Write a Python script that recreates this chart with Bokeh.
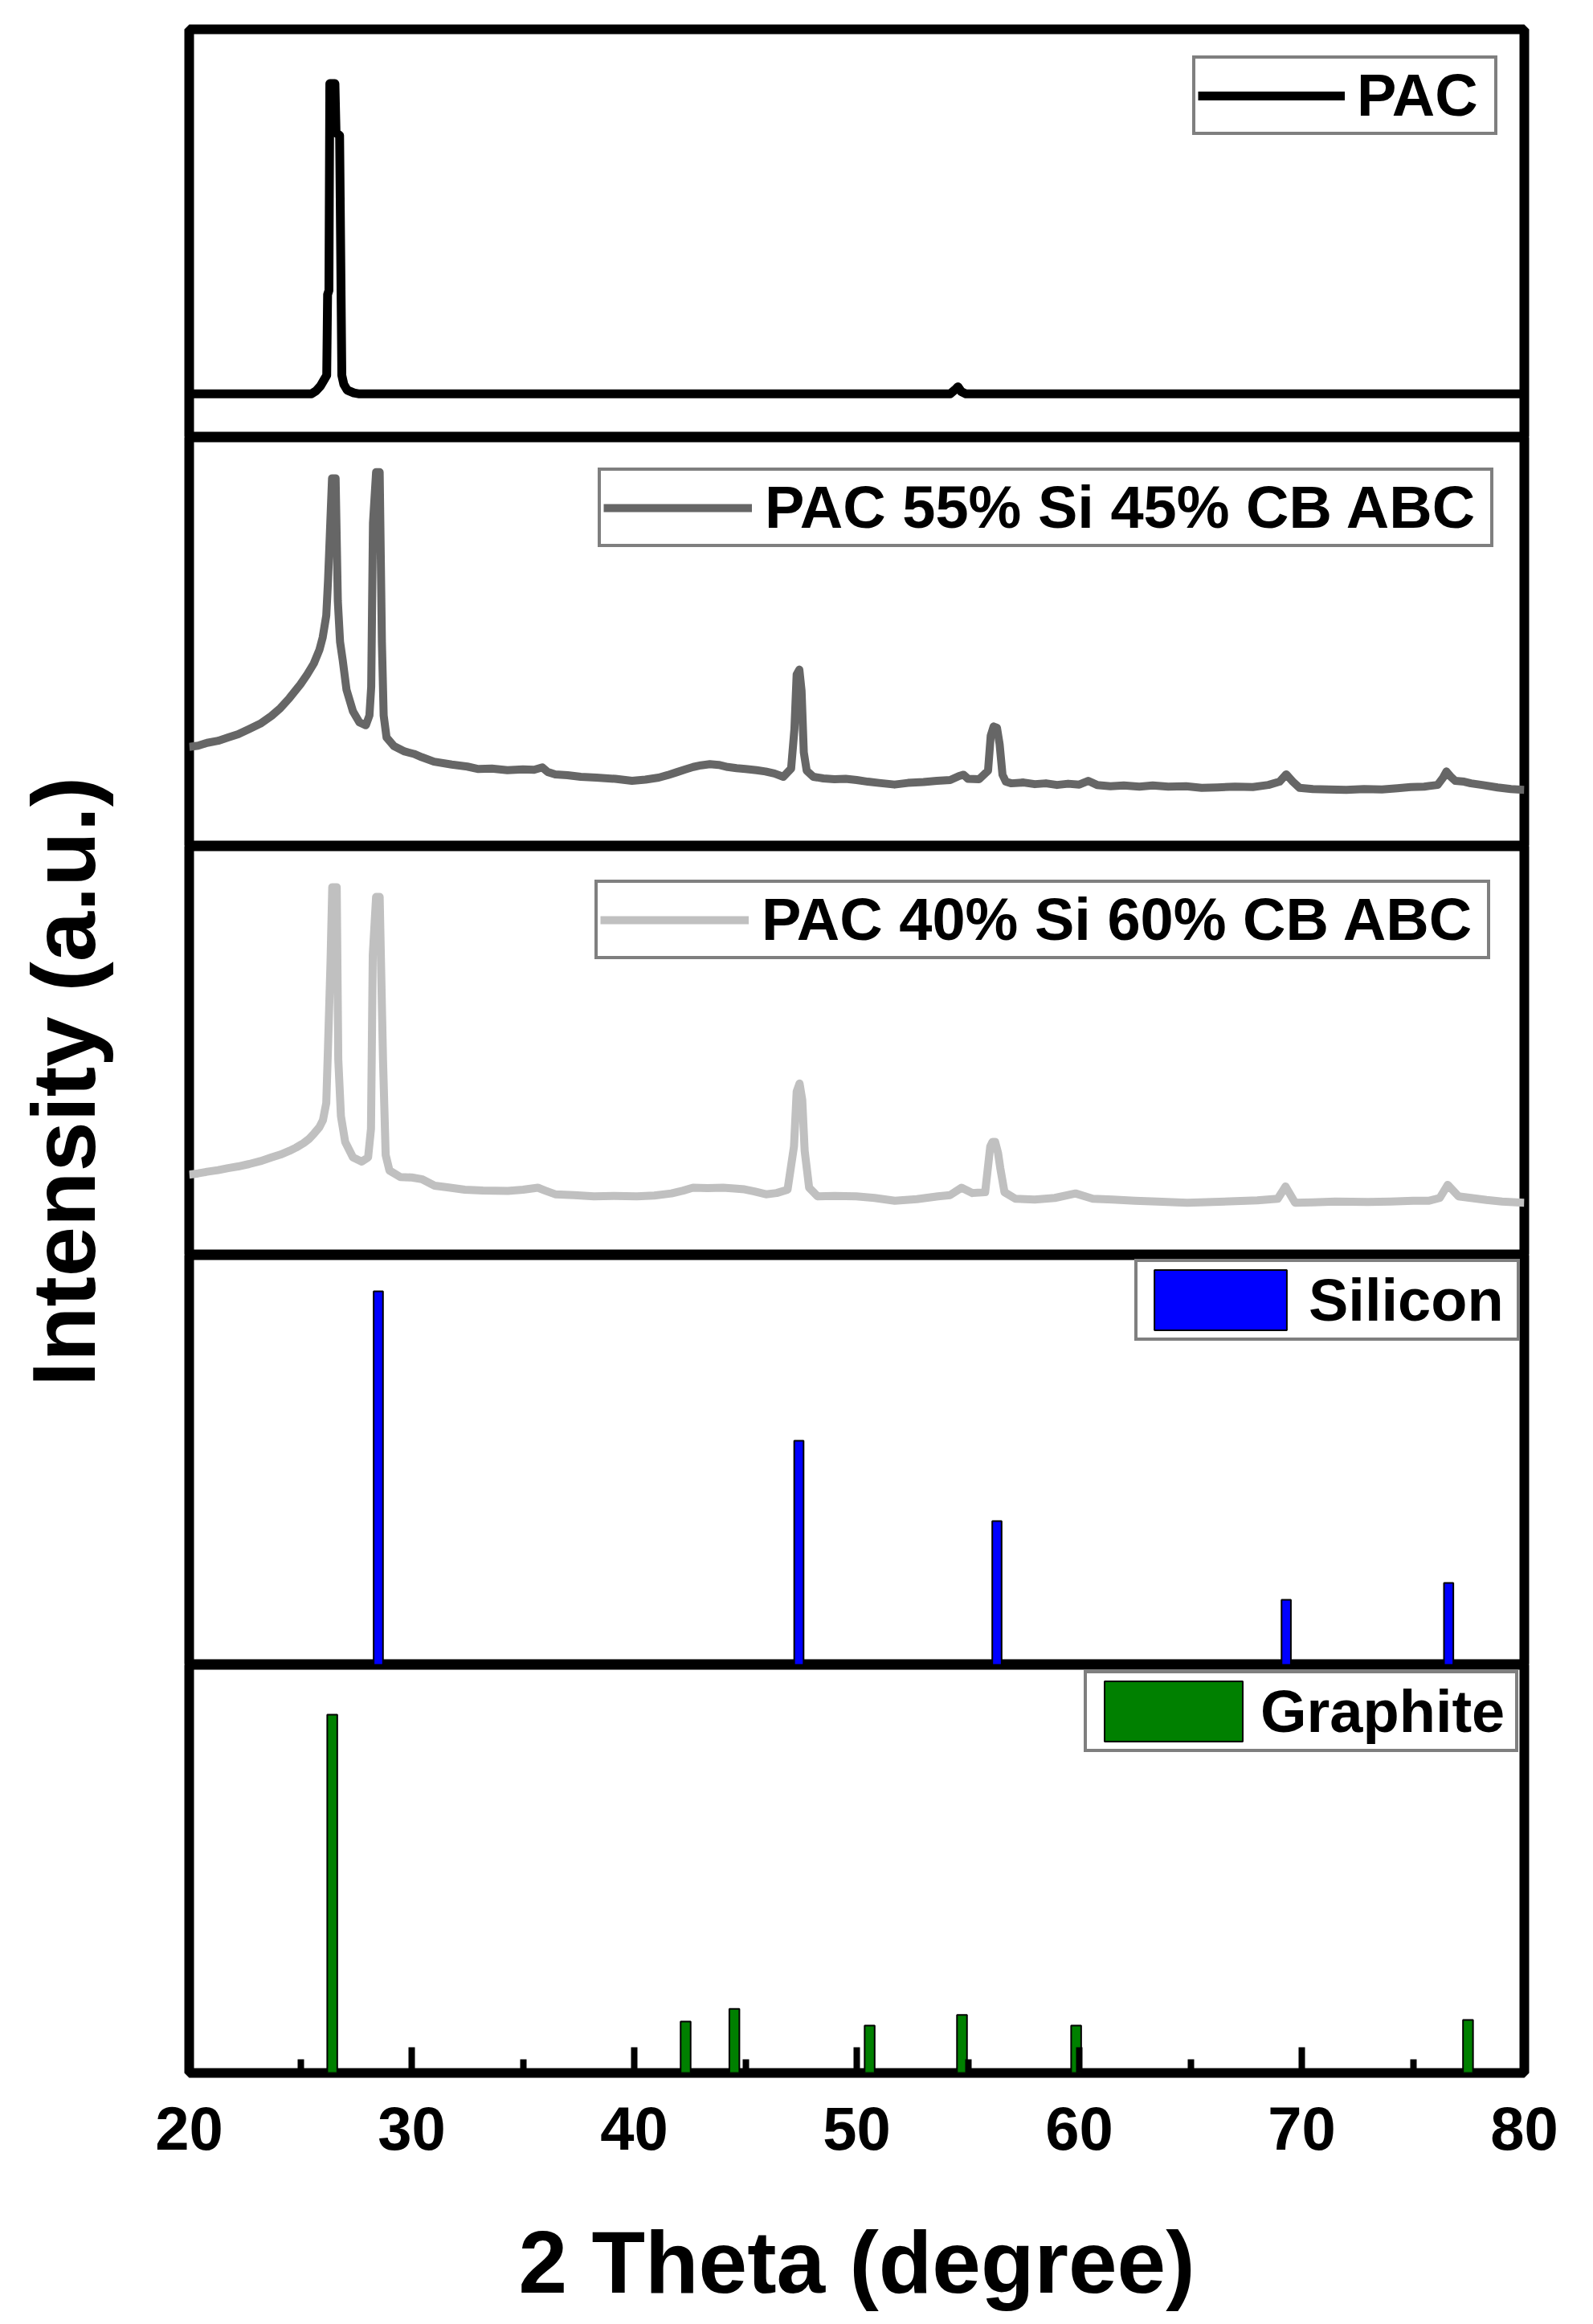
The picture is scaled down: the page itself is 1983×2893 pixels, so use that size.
from bokeh.plotting import figure
from bokeh.models import Range1d, FixedTicker, Label
from bokeh.layouts import row, column
from bokeh.embed import file_html
from bokeh.resources import INLINE

FONT = "Liberation Sans"

# ---------------- data (2 theta in degree, intensity in a.u.) ----------------
pac_x = [20.0, 21.0, 22.0, 23.0, 24.0, 25.0, 25.5, 25.7, 25.9, 26.05,
         26.18, 26.22, 26.28, 26.32, 26.55, 26.6, 26.76, 26.86, 26.95, 27.1,
         27.4, 27.6, 30.0, 35.0, 40.0, 45.0, 50.0, 54.2, 54.4, 54.55,
         54.7, 54.9, 60.0, 65.0, 70.0, 75.0, 80.0]
pac_y = [107, 107, 107, 107, 107, 107, 107, 114, 126, 140,
         152, 350, 360, 867, 867, 746, 740, 152, 130, 116,
         109, 107, 107, 107, 107, 107, 107, 107, 116, 124,
         112, 107, 107, 107, 107, 107, 107]

s55_x = [20.0, 20.4, 20.8, 21.3, 21.75, 22.2, 22.7, 23.2, 23.7, 24.1,
         24.5, 25.0, 25.3, 25.6, 25.85, 26.0, 26.16, 26.24, 26.32, 26.42,
         26.58, 26.68, 26.78, 26.9, 27.07, 27.36, 27.65, 27.94, 28.1, 28.18,
         28.26, 28.4, 28.56, 28.66, 28.74, 28.87, 29.2, 29.68, 30.1, 30.45,
         31.0, 31.8, 32.5, 33.0, 33.6, 34.3, 35.0, 35.5, 35.87, 36.1,
         36.45, 37.0, 37.6, 38.3, 39.15, 39.9, 40.5, 41.1, 41.5, 41.9,
         42.3, 42.65, 43.0, 43.4, 43.8, 44.2, 44.6, 45.0, 45.5, 45.9,
         46.3, 46.7, 47.05, 47.2, 47.3, 47.42, 47.52, 47.62, 47.75, 48.05,
         48.5, 49.0, 49.5, 50.0, 50.5, 51.0, 51.7, 52.3, 53.0, 53.6,
         54.2, 54.6, 54.8, 55.0, 55.5, 55.9, 56.02, 56.15, 56.3, 56.42,
         56.55, 56.7, 56.95, 57.5, 58.0, 58.5, 59.0, 59.5, 60.0, 60.4,
         60.8, 61.4, 62.0, 62.7, 63.3, 64.0, 64.8, 65.5, 66.2, 67.0,
         67.8, 68.5, 69.0, 69.3, 69.6, 69.9, 70.5, 71.2, 72.0, 72.8,
         73.6, 74.3, 74.9, 75.5, 76.1, 76.35, 76.5, 76.7, 76.9, 77.3,
         77.6, 78.1, 78.8, 79.4, 80.0]
s55_y = [243, 246, 253, 258, 266, 274, 287, 300, 319, 338,
         362, 396, 420, 447, 480, 511, 564, 650, 760, 900,
         900, 600, 500, 455, 383, 330, 303, 296, 320, 390,
         790, 915, 915, 500, 320, 266, 245, 232, 226, 218,
         207, 200, 195, 189, 190, 186, 188, 187, 193, 182,
         176, 174, 170, 168, 165, 160, 163, 168, 174, 181,
         188, 194, 198, 201, 199, 194, 191, 189, 186, 183,
         178, 170, 190, 287, 420, 432, 380, 230, 185, 170,
         166, 164, 165, 162, 158, 155, 151, 155, 157, 160,
         162, 172, 175, 165, 164, 185, 270, 293, 290, 250,
         175, 158, 154, 156, 152, 154, 150, 153, 151, 160,
         150, 147, 149, 146, 149, 146, 147, 143, 144, 146,
         145, 150, 158, 176, 158, 143, 140, 139, 138, 140,
         139, 142, 145, 146, 150, 168, 183, 170, 160, 158,
         154, 150, 144, 140, 138]

s40_x = [20.0, 20.4, 20.8, 21.3, 21.75, 22.2, 22.7, 23.2, 23.7, 24.1,
         24.5, 24.8, 25.14, 25.4, 25.62, 25.85, 26.01, 26.16, 26.24, 26.35,
         26.43, 26.63, 26.7, 26.82, 27.01, 27.36, 27.75, 28.04, 28.17, 28.25,
         28.4, 28.56, 28.71, 28.83, 29.0, 29.49, 30.0, 30.45, 31.03, 31.6,
         32.39, 33.2, 34.32, 35.0, 35.67, 36.0, 36.45, 37.3, 38.19, 39.1,
         40.12, 40.9, 41.67, 42.2, 42.64, 43.3, 43.99, 44.5, 44.96, 45.4,
         45.92, 46.4, 46.89, 47.18, 47.3, 47.43, 47.55, 47.66, 47.86, 48.24,
         49.0, 49.98, 50.8, 51.71, 52.7, 53.65, 54.2, 54.71, 55.2, 55.77,
         56.0, 56.1, 56.22, 56.35, 56.45, 56.64, 57.13, 58.0, 58.9, 59.83,
         60.61, 61.5, 62.5, 63.5, 64.86, 66.0, 67.0, 68.0, 68.92, 69.27,
         69.7, 70.5, 71.5, 72.98, 74.0, 75.0, 75.69, 76.2, 76.56, 77.04,
         77.6, 78.3, 79.0, 80.0]
s40_y = [197, 200, 204, 208, 213, 217, 223, 230, 239, 246,
         255, 263, 274, 285, 298, 313, 330, 372, 511, 713,
         900, 900, 479, 340, 277, 239, 229, 239, 309, 734,
         876, 876, 479, 245, 207, 191, 190, 186, 170, 166,
         160, 158, 157, 160, 165, 158, 149, 147, 144, 145,
         144, 146, 151, 158, 165, 164, 165, 163, 161, 156,
         149, 152, 160, 266, 400, 420, 380, 255, 165, 144,
         145, 144, 140, 133, 137, 144, 147, 165, 152, 154,
         266, 277, 277, 250, 213, 154, 138, 136, 140, 151,
         138, 136, 133, 131, 128, 130, 132, 134, 138, 168,
         128, 129, 131, 130, 131, 133, 133, 140, 172, 144,
         140, 135, 131, 128]

si_pos = [28.5, 47.4, 56.3, 69.3, 76.6]
si_int = [912, 547, 351, 159, 200]

gr_pos = [26.43, 42.31, 44.5, 50.58, 54.73, 59.86, 77.47]
gr_int = [878, 126, 157, 116, 142, 116, 130]

tick_values = [20, 30, 40, 50, 60, 70, 80]
minor_tick_values = [25, 35, 45, 55, 65, 75]

# ---------------- figures ----------------
xr = Range1d(20, 80)
FRAME_W = 1662
LEFT = 60
RIGHT = 60
LAB_W = 235 - LEFT


def panel(height, top=0, bottom=0, axis=False):
    p = figure(width=LEFT + FRAME_W + RIGHT, height=height, x_range=xr,
               y_range=Range1d(0, 1000),
               output_backend="svg", toolbar_location=None, title=None,
               x_axis_location="below" if axis else None, y_axis_location=None,
               min_border_left=LEFT, min_border_right=RIGHT,
               min_border_top=top, min_border_bottom=bottom)
    p.xgrid.visible = False
    p.ygrid.visible = False
    p.outline_line_color = "black"
    p.outline_line_width = 12
    return p


def style_legend(p, margin, glyph_w, glyph_h, pad, standoff, label_w):
    lg = p.legend[0]
    lg.location = "top_right"
    lg.margin = margin
    lg.padding = pad
    lg.spacing = 0
    lg.glyph_width = glyph_w
    lg.glyph_height = glyph_h
    lg.label_standoff = standoff
    lg.label_width = label_w
    lg.label_text_font = FONT
    lg.label_text_font_style = "bold"
    lg.label_text_font_size = "74px"
    lg.label_text_color = "black"
    lg.border_line_color = "black"
    lg.border_line_width = 4
    lg.background_fill_color = "white"
    lg.background_fill_alpha = 1.0


p1 = panel(36 + 508, top=36)
p1.line(pac_x, pac_y, line_color="black", line_width=11, line_join="round",
        legend_label="PAC")
style_legend(p1, 33, 183, 40, 3, 15, 168)

p2 = panel(509)
p2.line(s55_x, s55_y, line_color="#666666", line_width=10, line_join="round",
        legend_label="PAC 55% Si 45% CB ABC")
style_legend(p2, 38, 185, 40, 3, 16, 900)

p3 = panel(509)
p3.line(s40_x, s40_y, line_color="#c0c0c0", line_width=10, line_join="round",
        legend_label="PAC 40% Si 60% CB ABC")
style_legend(p3, 42, 185, 40, 3, 16, 900)

p4 = panel(510)
p4.vbar(x=si_pos, top=si_int, bottom=0, width=0.42, fill_color="#0000ff",
        line_color="black", line_width=2, legend_label="Silicon")
style_legend(p4, 5, 206, 94, 0, 7, 259)

BOTTOM = 300
p5 = panel(508 + BOTTOM, bottom=BOTTOM, axis=True)
p5.vbar(x=gr_pos, top=gr_int, bottom=0, width=0.45, fill_color="#008000",
        line_color="black", line_width=2, legend_label="Graphite")
style_legend(p5, 7, 215, 94, 0, 1, 317)

ax = p5.xaxis[0]
ax.ticker = FixedTicker(ticks=tick_values, minor_ticks=minor_tick_values)
ax.axis_line_color = None
ax.major_tick_in = 32
ax.major_tick_out = 0
ax.minor_tick_in = 17
ax.minor_tick_out = 0
ax.major_tick_line_width = 8
ax.minor_tick_line_width = 8
ax.major_tick_line_color = "black"
ax.minor_tick_line_color = "black"
ax.major_label_text_font = FONT
ax.major_label_text_font_style = "bold"
ax.major_label_text_font_size = "76px"
ax.major_label_text_color = "black"
ax.major_label_standoff = 42
ax.axis_label = "2 Theta (degree)"
ax.axis_label_text_font = FONT
ax.axis_label_text_font_style = "bold"
ax.axis_label_text_font_size = "109px"
ax.axis_label_text_color = "black"
ax.axis_label_standoff = 76

# left strip carrying the shared y-axis title
H = (36 + 508) + 509 + 509 + 510 + (508 + BOTTOM)
lab = figure(width=LAB_W, height=H, x_range=Range1d(0, LAB_W), y_range=Range1d(0, H),
             output_backend="svg", toolbar_location=None, title=None,
             x_axis_location=None, y_axis_location=None, min_border=0)
lab.outline_line_color = None
lab.xgrid.visible = False
lab.ygrid.visible = False
lab.add_layout(Label(x=79, y=H - 1346, text="Intensity (a.u.)", angle=90,
                     angle_units="deg", text_align="center", text_baseline="middle",
                     text_font=FONT, text_font_style="bold",
                     text_font_size="112px", text_color="black"))

layout = row(lab, column(p1, p2, p3, p4, p5, spacing=0), spacing=0)

with open("out.html", "w") as f:
    f.write(file_html(layout, INLINE))
